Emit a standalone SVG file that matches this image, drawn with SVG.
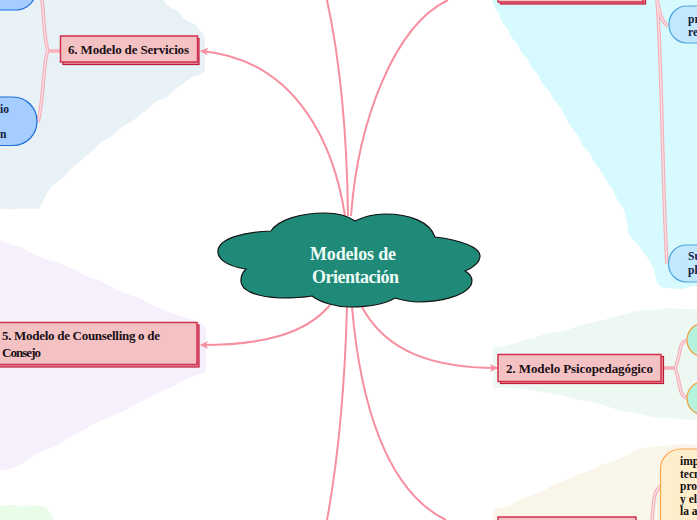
<svg xmlns="http://www.w3.org/2000/svg" width="697" height="520" viewBox="0 0 697 520">
<defs>
<marker id="arr" markerUnits="userSpaceOnUse" markerWidth="9" markerHeight="9" refX="7" refY="4" orient="auto"><path d="M0 0L8 4L0 8L2 4Z" fill="#f78fa0"/></marker>
</defs>
<style>
.lab{font-family:"Liberation Serif",serif;font-weight:700;font-size:13px;fill:#1a1016}
.sm{font-family:"Liberation Serif",serif;font-weight:700;font-size:11.5px;fill:#10203a}
.main{fill:none;stroke:#f78fa0;stroke-width:2}
.b1{fill:none;stroke:#f5b0ba;stroke-width:3.600}
.b2{fill:none;stroke:#fbe3e6;stroke-width:1.200}
.box{fill:#f5c2c4;stroke:#d0304c;stroke-width:1.500}
.sh{fill:#e88f9b;stroke:#c2183a;stroke-width:1.200}
</style>
<g id="regions">
<path fill="#e8f1f6" d="M0 0H163C170 10 176 8 181 15C186 22 192 22 197 26C200 32 205 34 205 40V70C200 76 195 75 190 78C184 84 178 86 172 92C166 100 160 98 154 103C148 110 142 112 136 118C130 124 124 125 118 130C112 138 106 138 100 143C94 150 90 152 84 158C78 164 74 165 68 172C62 180 56 182 52 186C46 192 42 206 38 209C30 209 24 208 18 209C12 210 6 208 0 209Z"/>
<path fill="#d6fafe" d="M492 0C494 6 496 10 499 14C500 22 504 24 508 29C510 37 514 40 518 45C520 52 524 55 528 60C531 68 535 70 539 76C541 84 545 86 550 92C553 100 557 103 561 108C563 114 566 117 568 122C572 130 577 132 580 140C583 148 588 150 592 157C595 165 599 168 603 174C606 182 610 185 614 192C616 200 621 203 624 210C626 218 628 224 628 232C632 240 640 246 643 252C648 258 653 265 655 274C656 282 658 286 664 288C672 288 680 290 686 288C690 287 694 286 697 286V0Z"/>
<path fill="#edf8f3" d="M493 347C510 347 520 340 535 338C550 330 560 334 575 327C590 322 600 322 612 317C625 315 640 308 655 310C670 306 685 310 697 309V420C685 420 675 418 660 418C645 416 635 412 620 411C605 405 595 402 580 400C565 396 555 394 540 392C525 388 510 388 493 388Z"/>
<path fill="#f9f5e8" d="M493 510C500 506 510 508 516 502C525 495 535 496 545 490C552 484 560 484 570 478C580 472 590 473 600 465C610 462 622 460 635 450C650 445 665 447 680 444C687 445 692 445 697 444V520H493Z"/>
<path fill="#f6effc" d="M0 240C8 244 14 246 22 247C30 254 40 256 50 261C60 262 68 268 78 271C86 278 96 278 106 284C116 290 122 292 132 296C142 297 150 306 160 308C170 314 185 316 198 322C204 324 206 326 206 332V368C205 376 204 372 198 374C188 378 180 382 170 388C160 390 150 398 140 402C130 408 122 412 112 416C102 420 92 424 84 430C74 434 66 440 56 446C46 450 38 452 30 458C22 464 14 470 0 470Z"/>
<path fill="#e8fce8" d="M0 506C8 504 16 505 24 507C32 505 40 505 46 508C50 512 52 516 53 520H0Z"/>
</g>
<g id="connectors">
<path class="main" marker-end="url(#arr)" d="M345 216C335 150 300 60 201 51"/>
<path class="main" d="M348 216C347 130 340 60 327 0"/>
<path class="main" d="M351 216C358 120 395 25 448 0"/>
<path class="main" marker-end="url(#arr)" d="M362 307C385 350 430 368 497 368"/>
<path class="main" d="M347 307C345 380 338 460 327 520"/>
<path class="main" d="M352 307C360 400 385 490 446 520"/>
<path class="main" marker-end="url(#arr)" d="M330 305C305 335 260 345 201 345"/>
<path class="b1" d="M60 51H48C44 40 44 15 42 0M48 51C43 60 44 100 38 122"/>
<path class="b2" d="M48 51C44 40 44 15 42 0M48 51C43 60 44 100 38 122"/>
<path class="b1" d="M661 368H675C681 355 678 343 687 340M675 368C681 382 678 395 687 398"/>
<path class="b2" d="M675 368C681 355 678 343 687 340M675 368C681 382 678 395 687 398"/>
<path class="b1" d="M657 0C660 12 661 22 668 26M657 0C662 60 662 180 667 264"/>
<path class="b2" d="M657 0C660 12 661 22 668 26M657 0C662 60 662 180 667 264"/>
<path class="b1" d="M652 520C654 505 652 492 661 486"/>
<path class="b2" d="M652 520C654 505 652 492 661 486"/>
</g>
<g id="center">
<path fill="#1f8a78" stroke="#111" stroke-width="1.200" d="M246 269C225 266 217 258 218 250C220 238 245 232 271 231C278 220 300 213 325 213C338 213 348 216 355 221C365 216 375 214 385 214C410 214 430 222 435 237C460 240 480 247 480 256C480 262 473 268 465 271C472 275 473 280 471 285C465 296 440 302 418 302C410 302 402 300 395 298C385 304 368 307 350 307C335 307 320 302 312 296C300 298 290 298 280 298C255 297 240 290 241 280C241 275 243 272 246 269Z"/>
<text x="310" y="260" textLength="86" font-family="Liberation Serif, serif" font-weight="700" font-size="18" fill="#eefaf6">Modelos de</text>
<text x="312" y="283" textLength="87" font-family="Liberation Serif, serif" font-weight="700" font-size="18" fill="#eefaf6">Orientación</text>
</g>
<g id="node-top"><rect class="sh" x="500.500" y="-10" width="145" height="14"/><rect class="box" x="498" y="-12" width="145" height="14"/></g>
<g id="node-6"><rect class="sh" x="63" y="38.500" width="136" height="26"/><rect class="box" x="60.500" y="36" width="137" height="26"/><text class="lab" x="68" y="54" textLength="121">6. Modelo de Servicios</text></g>
<g id="node-5"><rect class="sh" x="-10" y="325" width="209" height="42"/><rect class="box" x="-10" y="322.500" width="207" height="42"/><text class="lab" x="2" y="340" textLength="158">5. Modelo de Counselling o de</text><text class="lab" x="2" y="357" textLength="39">Consejo</text></g>
<g id="node-2"><rect class="sh" x="500.500" y="356.500" width="163" height="27"/><rect class="box" x="498" y="354.500" width="163" height="27"/><text class="lab" x="506" y="373" textLength="147">2. Modelo Psicopedagógico</text></g>
<g id="node-bottom"><rect class="box" x="498" y="517" width="138" height="20"/></g>
<g id="blue-a"><rect x="-40" y="-30" width="76" height="40" rx="20" fill="#a6cdff" stroke="#1a6fd8" stroke-width="1.200"/></g>
<g id="blue-b"><rect x="-60" y="97" width="97" height="48.500" rx="24" fill="#a6cdff" stroke="#1a6fd8" stroke-width="1.200"/><text class="sm" x="0" y="113">io</text><text class="sm" x="0" y="138">n</text></g>
<g id="cy-a"><rect x="669" y="6" width="60" height="37" rx="18" fill="#c2e8ff" stroke="#4fa3dc" stroke-width="1.200"/><text class="sm" x="688" y="23">pr</text><text class="sm" x="688" y="36">re</text></g>
<g id="cy-b"><rect x="668.500" y="245" width="60" height="37" rx="18" fill="#c2e8ff" stroke="#4fa3dc" stroke-width="1.200"/><text class="sm" x="688" y="260">Su</text><text class="sm" x="688" y="274">pl</text></g>
<g id="gr-a"><rect x="687" y="323" width="50" height="34" rx="17" fill="#b5f3dd" stroke="#f0a040" stroke-width="1.200"/></g>
<g id="gr-b"><rect x="687" y="381.500" width="50" height="33.500" rx="17" fill="#b5f3dd" stroke="#f0a040" stroke-width="1.200"/></g>
<g id="be-a"><rect x="660.500" y="449" width="70" height="90" rx="20" fill="#ffeecb" stroke="#ffa64d" stroke-width="1.200"/>
<text class="sm" style="fill:#111" x="680" y="465">impl</text><text class="sm" style="fill:#111" x="680" y="477.500">tecn</text><text class="sm" style="fill:#111" x="680" y="490">prog</text><text class="sm" style="fill:#111" x="680" y="502.500">y el</text><text class="sm" style="fill:#111" x="680" y="515">la ac</text></g>
</svg>
